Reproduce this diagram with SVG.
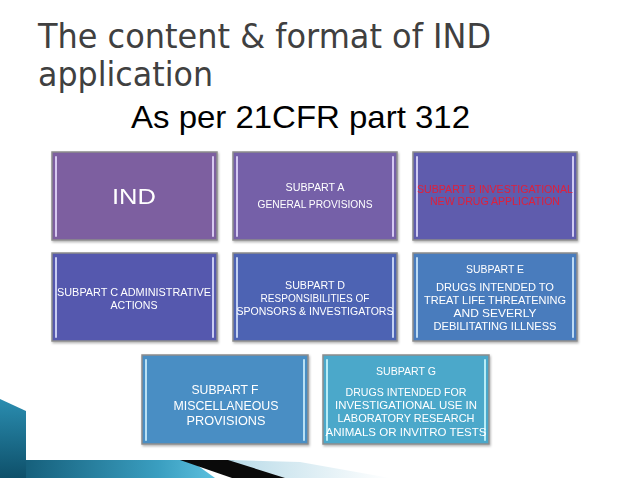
<svg xmlns="http://www.w3.org/2000/svg" width="638" height="478" viewBox="0 0 638 478">
<defs>
<style>
.box{stroke:#8c8c8c;stroke-width:1.5}
.hl{stroke-width:2;stroke-linecap:round}
.t{font-family:"Liberation Sans",Arial,sans-serif;fill:#ffffff;text-anchor:middle}
.s{font-size:10px}
.m{font-size:11.5px}
</style>
<linearGradient id="gTeal" x1="0" y1="0" x2="1" y2="0">
<stop offset="0" stop-color="#16607c"/>
<stop offset="0.7" stop-color="#3a9ec0"/>
<stop offset="1" stop-color="#5cc0de"/>
</linearGradient>
<linearGradient id="gDark" x1="0" y1="0" x2="0" y2="1">
<stop offset="0" stop-color="#2a8db0"/>
<stop offset="1" stop-color="#0e506a"/>
</linearGradient>
<linearGradient id="gLight" x1="0" y1="0" x2="1" y2="0">
<stop offset="0" stop-color="#b9dbe8"/>
<stop offset="1" stop-color="#ffffff"/>
</linearGradient>
<filter id="sh" x="-5%" y="-5%" width="115%" height="115%">
<feDropShadow dx="1" dy="1.5" stdDeviation="1" flood-color="#000" flood-opacity="0.3"/>
</filter>
</defs>
<rect width="638" height="478" fill="#ffffff"/>

<g id="decoration">
<polygon points="0,399 26,411 26,478 0,478" fill="url(#gDark)"/>
<polygon points="26,460 190,460 215,478 26,478" fill="url(#gTeal)"/>
<polygon points="180,460 232,460 290,478 232,478" fill="#0a0a0a"/>
<polygon points="228,460 300,462 390,478 285,478" fill="url(#gLight)"/>
</g>

<g id="title">
<text x="38" y="48" font-family="DejaVu Sans,sans-serif" font-size="33" fill="#404040" textLength="453" lengthAdjust="spacingAndGlyphs">The content &amp; format of IND</text>
<text x="38" y="86" font-family="DejaVu Sans,sans-serif" font-size="33" fill="#404040" textLength="175" lengthAdjust="spacingAndGlyphs">application</text>
<text x="131" y="128" font-family="Liberation Sans,Arial,sans-serif" font-size="32" fill="#000000" textLength="339" lengthAdjust="spacingAndGlyphs">As per 21CFR part 312</text>
</g>

<g id="ind" filter="url(#sh)">
<rect class="box" x="52" y="152" width="165" height="88" fill="#7d5fa0"/>
<line class="hl" x1="56" y1="157" x2="56" y2="236" stroke="#d7c8f0"/>
<line class="hl" x1="213" y1="157" x2="213" y2="236" stroke="#d7c8f0"/>
<text class="t" x="134" y="204" font-size="22" textLength="44" lengthAdjust="spacingAndGlyphs">IND</text>
</g>

<g id="subpart-a" filter="url(#sh)">
<rect class="box" x="233" y="152" width="164" height="88" fill="#7460a8"/>
<line class="hl" x1="237" y1="157" x2="237" y2="236" stroke="#d4c8f2"/>
<line class="hl" x1="393" y1="157" x2="393" y2="236" stroke="#d4c8f2"/>
<text class="t s" x="315" y="191" textLength="59" lengthAdjust="spacingAndGlyphs">SUBPART A</text>
<text class="t s" x="315" y="208" textLength="115" lengthAdjust="spacingAndGlyphs">GENERAL PROVISIONS</text>
</g>

<g id="subpart-b" filter="url(#sh)">
<rect class="box" x="413" y="152" width="164" height="88" fill="#5f5bad"/>
<line class="hl" x1="417" y1="157" x2="417" y2="236" stroke="#cfcaf2"/>
<line class="hl" x1="573" y1="157" x2="573" y2="236" stroke="#cfcaf2"/>
<text class="t s" x="495" y="193" fill="#e0203a" style="fill:#e0203a" textLength="156" lengthAdjust="spacingAndGlyphs">SUBPART B INVESTIGATIONAL</text>
<text class="t s" x="495" y="205" style="fill:#e0203a" textLength="130" lengthAdjust="spacingAndGlyphs">NEW DRUG APPLICATION</text>
</g>

<g id="subpart-c" filter="url(#sh)">
<rect class="box" x="52" y="253" width="165" height="88" fill="#5558ae"/>
<line class="hl" x1="56" y1="258" x2="56" y2="337" stroke="#c8cbf2"/>
<line class="hl" x1="213" y1="258" x2="213" y2="337" stroke="#c8cbf2"/>
<text class="t s" x="134" y="296" textLength="154" lengthAdjust="spacingAndGlyphs">SUBPART C ADMINISTRATIVE</text>
<text class="t s" x="134" y="309" textLength="47" lengthAdjust="spacingAndGlyphs">ACTIONS</text>
</g>

<g id="subpart-d" filter="url(#sh)">
<rect class="box" x="233" y="253" width="164" height="88" fill="#4e63b3"/>
<line class="hl" x1="237" y1="258" x2="237" y2="337" stroke="#c2d0f2"/>
<line class="hl" x1="393" y1="258" x2="393" y2="337" stroke="#c2d0f2"/>
<text class="t s" x="315" y="289" textLength="60" lengthAdjust="spacingAndGlyphs">SUBPART D</text>
<text class="t s" x="315" y="302" textLength="109" lengthAdjust="spacingAndGlyphs">RESPONSIBILITIES OF</text>
<text class="t s" x="315" y="315" textLength="157" lengthAdjust="spacingAndGlyphs">SPONSORS &amp; INVESTIGATORS</text>
</g>

<g id="subpart-e" filter="url(#sh)">
<rect class="box" x="413" y="253" width="164" height="88" fill="#4a7cbd"/>
<line class="hl" x1="417" y1="258" x2="417" y2="337" stroke="#bcdaf4"/>
<line class="hl" x1="573" y1="258" x2="573" y2="337" stroke="#bcdaf4"/>
<text class="t s" x="495" y="273" textLength="58" lengthAdjust="spacingAndGlyphs">SUBPART E</text>
<text class="t m" x="495" y="291" textLength="118" lengthAdjust="spacingAndGlyphs">DRUGS INTENDED TO</text>
<text class="t m" x="495" y="304" textLength="142" lengthAdjust="spacingAndGlyphs">TREAT LIFE THREATENING</text>
<text class="t m" x="495" y="317" textLength="83" lengthAdjust="spacingAndGlyphs">AND  SEVERLY</text>
<text class="t m" x="495" y="330" textLength="123" lengthAdjust="spacingAndGlyphs">DEBILITATING ILLNESS</text>
</g>

<g id="subpart-f" filter="url(#sh)">
<rect class="box" x="142" y="355" width="166" height="89" fill="#4a8ec4"/>
<line class="hl" x1="146" y1="360" x2="146" y2="440" stroke="#b8e0f4"/>
<line class="hl" x1="304" y1="360" x2="304" y2="440" stroke="#b8e0f4"/>
<text class="t" x="225" y="394" font-size="13" textLength="67" lengthAdjust="spacingAndGlyphs">SUBPART F</text>
<text class="t" x="226" y="410" font-size="13" textLength="105" lengthAdjust="spacingAndGlyphs">MISCELLANEOUS</text>
<text class="t" x="226" y="425" font-size="13" textLength="79" lengthAdjust="spacingAndGlyphs">PROVISIONS</text>
</g>

<g id="subpart-g" filter="url(#sh)">
<rect class="box" x="323" y="355" width="166" height="89" fill="#4ba8ca"/>
<line class="hl" x1="327" y1="360" x2="327" y2="440" stroke="#b8ecf6"/>
<line class="hl" x1="485" y1="360" x2="485" y2="440" stroke="#b8ecf6"/>
<text class="t s" x="406" y="375" textLength="60" lengthAdjust="spacingAndGlyphs">SUBPART G</text>
<text class="t m" x="406" y="396" textLength="121" lengthAdjust="spacingAndGlyphs">DRUGS INTENDED  FOR</text>
<text class="t m" x="406" y="409" textLength="142" lengthAdjust="spacingAndGlyphs">INVESTIGATIONAL USE IN</text>
<text class="t m" x="406" y="422" textLength="137" lengthAdjust="spacingAndGlyphs">LABORATORY RESEARCH</text>
<text class="t m" x="406" y="436" textLength="161" lengthAdjust="spacingAndGlyphs">ANIMALS OR INVITRO TESTS</text>
</g>

<g id="connectors"></g>
</svg>
